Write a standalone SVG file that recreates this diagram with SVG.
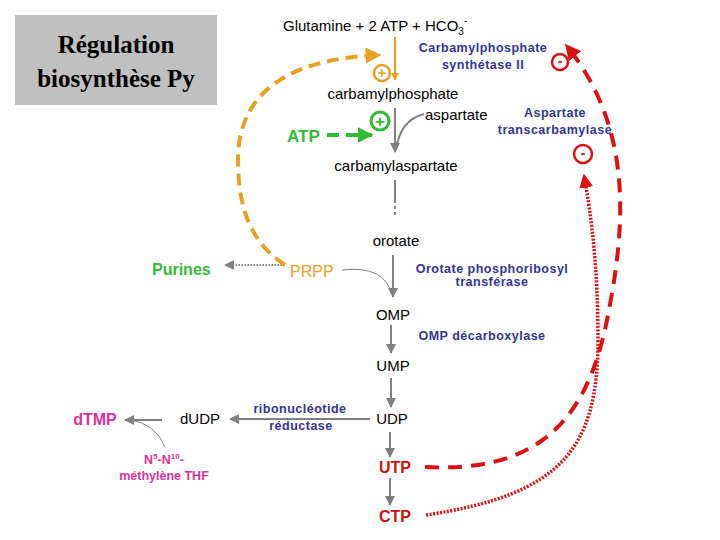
<svg xmlns="http://www.w3.org/2000/svg" width="720" height="540" viewBox="0 0 720 540">
<style>
text{font-family:"Liberation Sans",Arial,sans-serif}
.m{font-size:15px;fill:#000}
.e{font-size:12.5px;font-weight:bold;fill:#333399;letter-spacing:0.5px}
.g{stroke:#808080;stroke-width:2;fill:none}
.thin{stroke:#808080;stroke-width:1;fill:none}
</style>
<defs>
<marker id="ag" viewBox="0 0 10 10" refX="9" refY="5" markerWidth="5" markerHeight="5" orient="auto"><path d="M0,0L10,5L0,10z" fill="#808080"/></marker>
<marker id="ao" viewBox="0 0 10 10" refX="9" refY="5" markerWidth="4" markerHeight="4" orient="auto"><path d="M0,0L10,5L0,10z" fill="#e8a020"/></marker>
<marker id="agr" viewBox="0 0 10 10" refX="9" refY="5" markerWidth="4" markerHeight="4" orient="auto"><path d="M0,0L10,5L0,10z" fill="#33bb33"/></marker>
<marker id="ar" viewBox="0 0 10 10" refX="9" refY="5" markerWidth="4" markerHeight="4" orient="auto"><path d="M0,0L10,5L0,10z" fill="#dd1111"/></marker>
</defs>
<g id="title"><rect x="15" y="15" width="202" height="90" fill="#c0c0c0"/>
<text x="116" y="53" text-anchor="middle" style="font-family:'Liberation Serif',serif;font-size:25px;font-weight:bold">Régulation</text>
<text x="116" y="87" text-anchor="middle" style="font-family:'Liberation Serif',serif;font-size:25px;font-weight:bold">biosynthèse Py</text></g>
<g id="connectors">
<path class="g" d="M395,37 V80" style="stroke:#e8a020" marker-end="url(#ao)"/>
<path class="g" d="M395,108 V152" marker-end="url(#ag)"/>
<path class="thin" style="stroke-width:2" d="M424,114 Q400,120 396,150"/>
<path class="g" d="M395,180 V200" />
<path class="g" d="M395,200 V218" stroke-dasharray="3,3"/>
<path class="g" d="M393,255 V297" marker-end="url(#ag)"/>
<path class="thin" d="M342,270 Q385,265 392,295"/>
<path class="g" d="M391,325 V353" marker-end="url(#ag)"/>
<path class="g" d="M391,378 V407" marker-end="url(#ag)"/>
<path class="g" d="M370,419 H230" marker-end="url(#ag)"/>
<path class="g" d="M162,420 H125" marker-end="url(#ag)"/>
<path class="thin" d="M165,447 Q155,423 130,420"/>
<path class="g" d="M390,432 V457" marker-end="url(#ag)"/>
<path class="g" d="M390,478 V505" marker-end="url(#ag)"/>
<path d="M282,265 H225" stroke="#808080" stroke-width="2" stroke-dasharray="1.5,1.5" fill="none" marker-end="url(#ag)"/>
<path d="M285,265 C255,245 238,215 238,160 C238,85 300,58 380,55" stroke="#e8a020" stroke-width="4" stroke-dasharray="12,7" fill="none" marker-end="url(#ao)"/>
<path d="M327,135 H372" stroke="#33bb33" stroke-width="4" stroke-dasharray="12,7" fill="none" marker-end="url(#agr)"/>
<path d="M425,467 C530,472 585,430 607,320 C625,230 635,130 566,45" stroke="#dd1111" stroke-width="4" stroke-dasharray="14,9" fill="none" marker-end="url(#ar)"/>
<path d="M426,515 C560,495 598,450 598,340 C598,270 592,220 584,175" stroke="#dd1111" stroke-width="3.5" stroke-dasharray="2,1.5" fill="none" marker-end="url(#ar)"/>
</g>
<g id="n-gln"><text class="m" x="283" y="31">Glutamine + 2 ATP + HCO<tspan font-size="10" dy="4">3</tspan><tspan font-size="10" dy="-11">-</tspan></text></g>
<g id="n-cps"><text class="e" x="483" y="52" text-anchor="middle">Carbamylphosphate</text><text class="e" x="483" y="69" text-anchor="middle">synthétase II</text></g>
<g id="n-minus1"><circle cx="560" cy="62" r="8" fill="none" stroke="#dd1111" stroke-width="2.5"/><text x="560" y="66" text-anchor="middle" font-size="14" font-weight="bold" fill="#dd1111">-</text></g>
<g id="n-plus1"><circle cx="382" cy="73" r="8" fill="none" stroke="#e8a020" stroke-width="2.5"/><text x="382" y="78" text-anchor="middle" font-size="15" font-weight="bold" fill="#e8a020">+</text></g>
<g id="n-cp"><text class="m" x="393" y="99" text-anchor="middle">carbamylphosphate</text></g>
<g id="n-plus2"><circle cx="380" cy="121" r="9" fill="none" stroke="#33bb33" stroke-width="3"/><text x="380" y="127" text-anchor="middle" font-size="17" font-weight="bold" fill="#33bb33">+</text></g>
<g id="n-asp"><text class="m" x="425" y="120">aspartate</text></g>
<g id="n-atc"><text class="e" x="555" y="117" text-anchor="middle">Aspartate</text><text class="e" x="555" y="134" text-anchor="middle">transcarbamylase</text></g>
<g id="n-minus2"><circle cx="583" cy="154" r="9" fill="none" stroke="#dd1111" stroke-width="2.5"/><text x="583" y="158" text-anchor="middle" font-size="14" font-weight="bold" fill="#dd1111">-</text></g>
<g id="n-atp"><text x="287" y="142" font-size="17" font-weight="bold" fill="#33bb33">ATP</text></g>
<g id="n-ca"><text class="m" x="396" y="171" text-anchor="middle">carbamylaspartate</text></g>
<g id="n-oro"><text class="m" x="396" y="246" text-anchor="middle">orotate</text></g>
<g id="n-pur"><text x="152" y="275" font-size="16" font-weight="bold" fill="#33bb33">Purines</text></g>
<g id="n-prpp"><text x="290" y="277" font-size="16" fill="#e8a020">PRPP</text></g>
<g id="n-oprt"><text class="e" x="492" y="273" text-anchor="middle">Orotate phosphoribosyl</text><text class="e" x="492" y="286" text-anchor="middle">transférase</text></g>
<g id="n-omp"><text class="m" x="393" y="320" text-anchor="middle">OMP</text></g>
<g id="n-ompd"><text class="e" x="482" y="340" text-anchor="middle">OMP décarboxylase</text></g>
<g id="n-ump"><text class="m" x="393" y="371" text-anchor="middle">UMP</text></g>
<g id="n-udp"><text class="m" x="392" y="424" text-anchor="middle">UDP</text></g>
<g id="n-rnr"><text class="e" x="300" y="413" text-anchor="middle">ribonucléotide</text><text class="e" x="301" y="430" text-anchor="middle">réductase</text></g>
<g id="n-dudp"><text class="m" x="200" y="424" text-anchor="middle">dUDP</text></g>
<g id="n-dtmp"><text x="95" y="425" font-size="16" font-weight="bold" fill="#dd3399" text-anchor="middle">dTMP</text></g>
<g id="n-thf"><text x="164" y="464" font-size="12.5" font-weight="bold" fill="#dd3399" text-anchor="middle">N<tspan font-size="8" dy="-5">5</tspan><tspan dy="5">-N</tspan><tspan font-size="8" dy="-5">10</tspan><tspan dy="5">-</tspan></text><text x="164" y="480" font-size="12.5" font-weight="bold" fill="#dd3399" text-anchor="middle">méthylène THF</text></g>
<g id="n-utp"><text x="395" y="473" font-size="16" font-weight="bold" fill="#cc1111" text-anchor="middle">UTP</text></g>
<g id="n-ctp"><text x="395" y="522" font-size="16" font-weight="bold" fill="#cc1111" text-anchor="middle">CTP</text></g>
</svg>
